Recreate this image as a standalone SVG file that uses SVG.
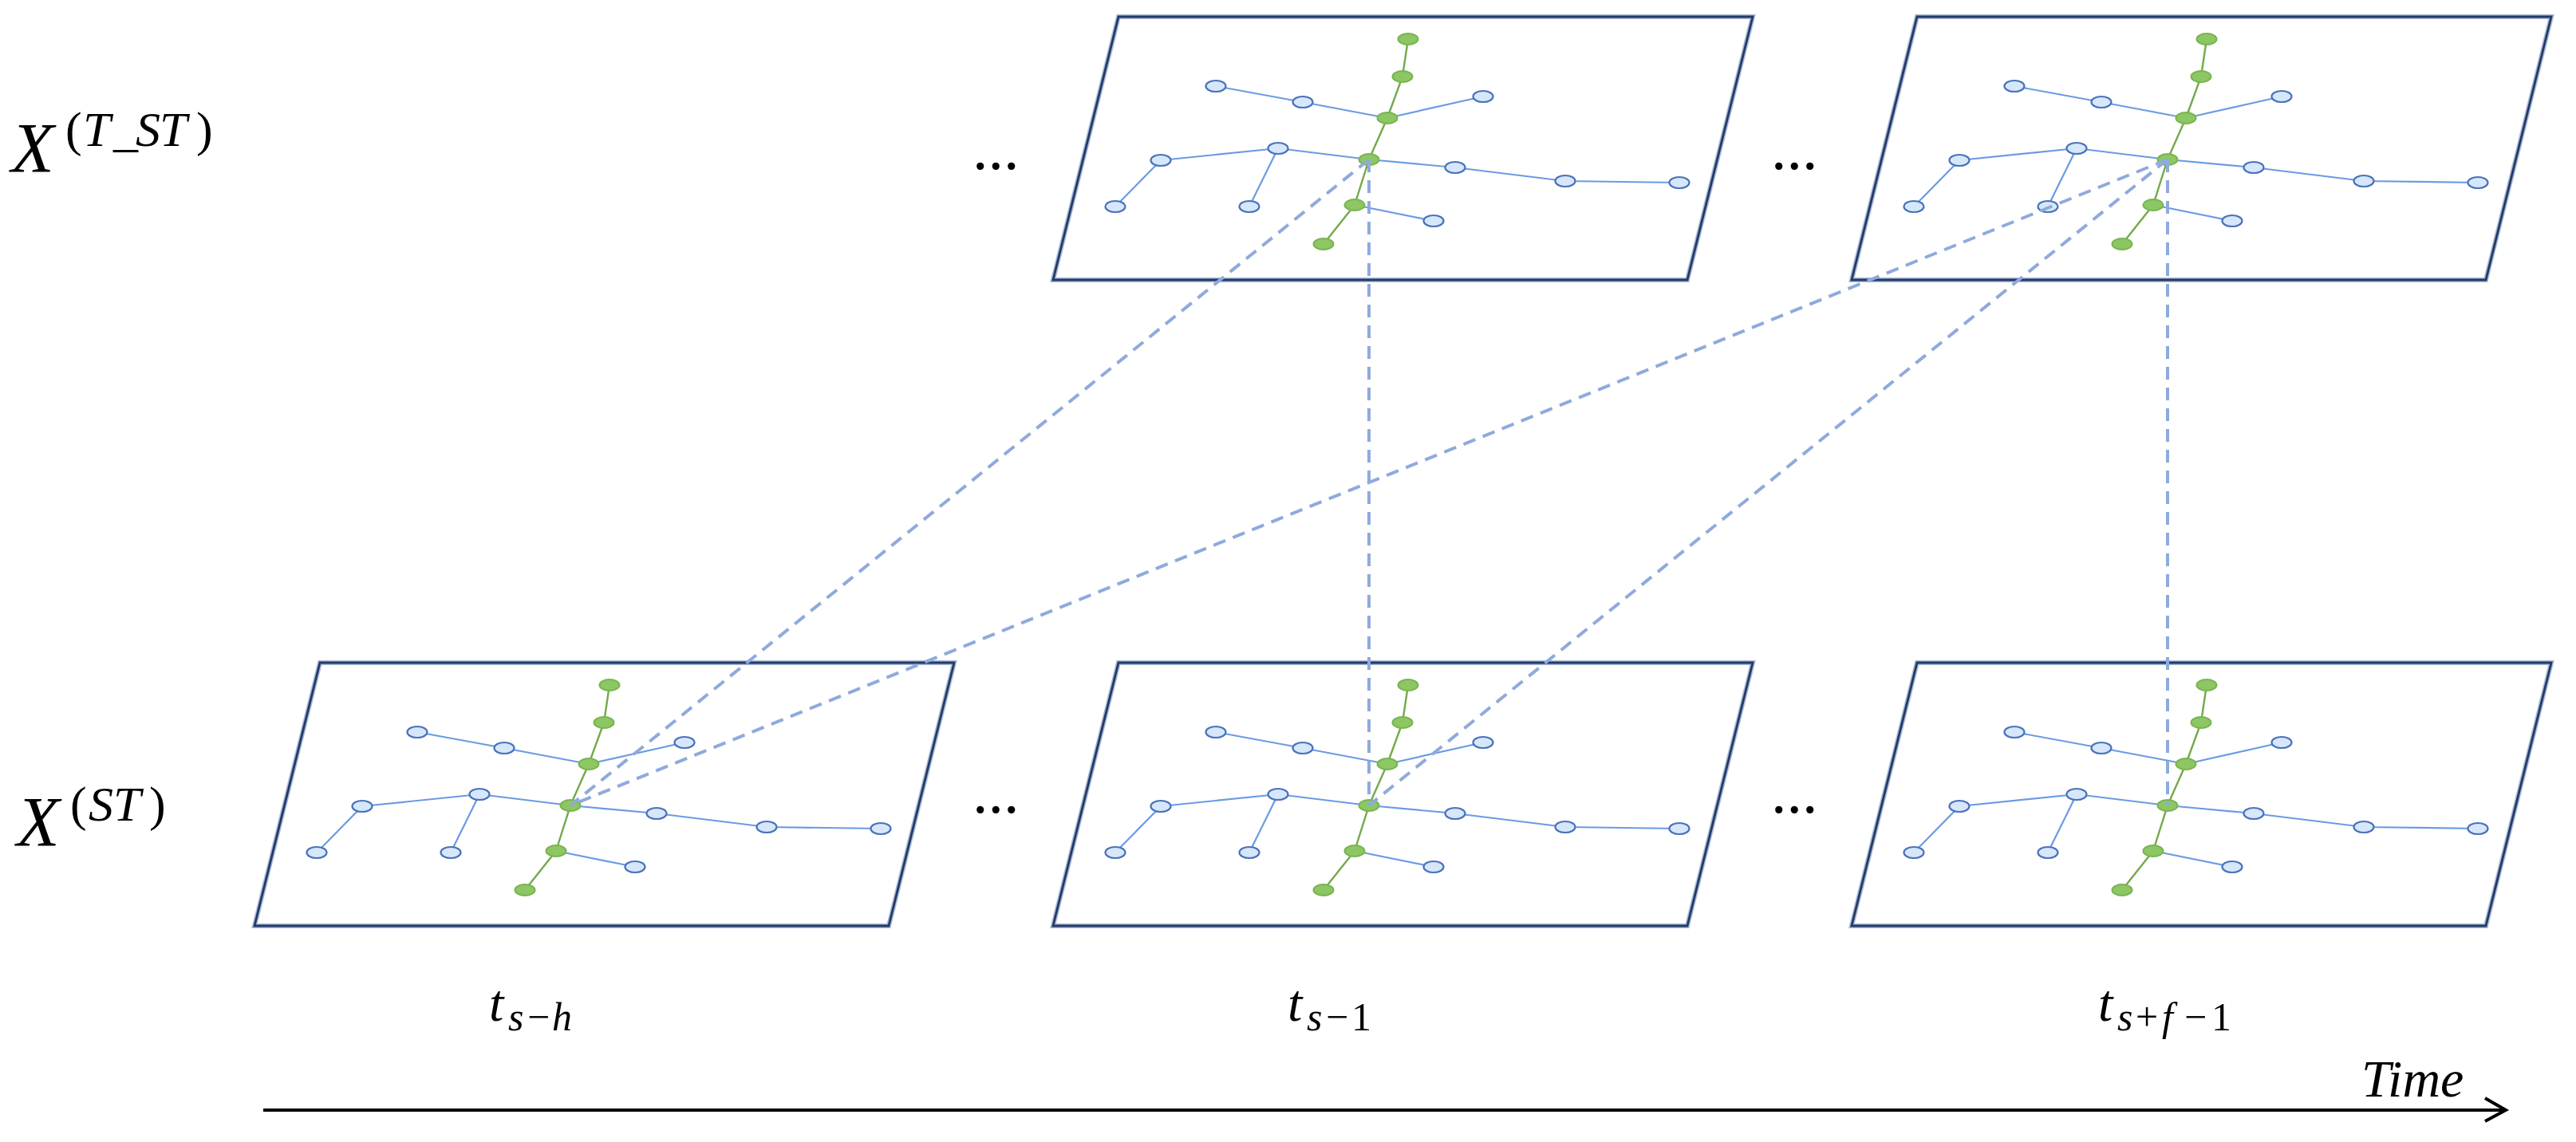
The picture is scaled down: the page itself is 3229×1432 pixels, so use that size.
<svg xmlns="http://www.w3.org/2000/svg" xmlns:xlink="http://www.w3.org/1999/xlink" width="3229" height="1432" viewBox="0 0 3229 1432">
<style>
.panel-halo{fill:#ffffff;stroke:#a9b8d6;stroke-width:6;stroke-linejoin:miter}
.panel{fill:none;stroke:#223a66;stroke-width:2.8;stroke-linejoin:miter}
.be{stroke:#6a9be4;stroke-width:2.2;fill:none;stroke-linecap:round}
.ge{stroke:#74a94c;stroke-width:2.4;fill:none;stroke-linecap:round;stroke-linejoin:round}
.bn{fill:#d7e7fb;stroke:#4a72b8;stroke-width:2.2}
.gn{fill:#8cc763;stroke:#7ab452;stroke-width:2}
.dash{stroke:#8faadc;stroke-width:4;stroke-dasharray:16 10;fill:none}
.m{font-family:"Liberation Serif","DejaVu Serif",serif;fill:#000}
.it{font-style:italic}
.sub{font-size:50px}
</style>
<defs>
<g id="graph">
<polyline class="be" points="122,87 231,107 337,127"/>
<line class="be" x1="337" y1="127" x2="457" y2="100"/>
<polyline class="be" points="53,180 200,165 314,179"/>
<line class="be" x1="200" y1="165" x2="164" y2="238"/>
<line class="be" x1="53" y1="180" x2="-4" y2="238"/>
<polyline class="be" points="314,179 422,189 560,206 703,208"/>
<line class="be" x1="296" y1="236" x2="395" y2="256"/>
<polyline class="ge" points="363,28 356,75 337,127 314,179 296,236 257,285"/>
<ellipse class="bn" cx="122" cy="87" rx="12.5" ry="7"/>
<ellipse class="bn" cx="231" cy="107" rx="12.5" ry="7"/>
<ellipse class="bn" cx="457" cy="100" rx="12.5" ry="7"/>
<ellipse class="bn" cx="200" cy="165" rx="12.5" ry="7"/>
<ellipse class="bn" cx="53" cy="180" rx="12.5" ry="7"/>
<ellipse class="bn" cx="-4" cy="238" rx="12.5" ry="7"/>
<ellipse class="bn" cx="164" cy="238" rx="12.5" ry="7"/>
<ellipse class="bn" cx="422" cy="189" rx="12.5" ry="7"/>
<ellipse class="bn" cx="560" cy="206" rx="12.5" ry="7"/>
<ellipse class="bn" cx="703" cy="208" rx="12.5" ry="7"/>
<ellipse class="bn" cx="395" cy="256" rx="12.5" ry="7"/>
<ellipse class="gn" cx="363" cy="28" rx="12.5" ry="7"/>
<ellipse class="gn" cx="356" cy="75" rx="12.5" ry="7"/>
<ellipse class="gn" cx="337" cy="127" rx="12.5" ry="7"/>
<ellipse class="gn" cx="314" cy="179" rx="12.5" ry="7"/>
<ellipse class="gn" cx="296" cy="236" rx="12.5" ry="7"/>
<ellipse class="gn" cx="257" cy="285" rx="12.5" ry="7"/>
</g>
<polygon id="plane" points="0,0 795,0 713,330 -82,330"/>
</defs>
<rect width="3229" height="1432" fill="#ffffff"/>

<g id="panel-tst-1" transform="translate(1402,21)">
<use href="#plane" xlink:href="#plane" class="panel-halo"/>
<use href="#plane" xlink:href="#plane" class="panel"/>
<use href="#graph" xlink:href="#graph"/>
</g>
<g id="panel-tst-2" transform="translate(2403,21)">
<use href="#plane" xlink:href="#plane" class="panel-halo"/>
<use href="#plane" xlink:href="#plane" class="panel"/>
<use href="#graph" xlink:href="#graph"/>
</g>
<g id="panel-st-1" transform="translate(401,831)">
<use href="#plane" xlink:href="#plane" class="panel-halo"/>
<use href="#plane" xlink:href="#plane" class="panel"/>
<use href="#graph" xlink:href="#graph"/>
</g>
<g id="panel-st-2" transform="translate(1402,831)">
<use href="#plane" xlink:href="#plane" class="panel-halo"/>
<use href="#plane" xlink:href="#plane" class="panel"/>
<use href="#graph" xlink:href="#graph"/>
</g>
<g id="panel-st-3" transform="translate(2403,831)">
<use href="#plane" xlink:href="#plane" class="panel-halo"/>
<use href="#plane" xlink:href="#plane" class="panel"/>
<use href="#graph" xlink:href="#graph"/>
</g>

<g id="connectors">
<line class="dash" x1="1716" y1="200" x2="715" y2="1010"/>
<line class="dash" x1="1716" y1="200" x2="1716" y2="1010"/>
<line class="dash" x1="2717" y1="200" x2="715" y2="1010"/>
<line class="dash" x1="2717" y1="200" x2="1716" y2="1010"/>
<line class="dash" x1="2717" y1="200" x2="2717" y2="1010"/>
</g>

<g id="labels">
<text class="m" y="215"><tspan class="it" x="14" font-size="88">X</tspan><tspan font-size="62" x="82" y="183">(</tspan><tspan class="it" font-size="62" x="104" y="183">T</tspan><tspan font-size="62" x="142" y="183">_</tspan><tspan class="it" font-size="62" x="170" y="183">S</tspan><tspan class="it" font-size="62" x="200" y="183">T</tspan><tspan font-size="62" x="246" y="183">)</tspan></text>
<text class="m" y="1060"><tspan class="it" x="21" font-size="88">X</tspan><tspan font-size="62" x="88" y="1029">(</tspan><tspan class="it" font-size="62" x="111" y="1029">S</tspan><tspan class="it" font-size="62" x="142" y="1029">T</tspan><tspan font-size="62" x="187" y="1029">)</tspan></text>

<text class="m" font-size="78" x="1219" y="212">...</text>
<text class="m" font-size="78" x="2220" y="212">...</text>
<text class="m" font-size="78" x="1219" y="1019">...</text>
<text class="m" font-size="78" x="2220" y="1019">...</text>

<text class="m" y="1280"><tspan class="it" x="613" font-size="66">t</tspan><tspan class="sub it" x="637" y="1292">s</tspan><tspan class="sub" x="661" y="1292">−</tspan><tspan class="sub it" x="692" y="1292">h</tspan></text>
<text class="m" y="1280"><tspan class="it" x="1614" font-size="66">t</tspan><tspan class="sub it" x="1638" y="1292">s</tspan><tspan class="sub" x="1662" y="1292">−</tspan><tspan class="sub" x="1694" y="1292">1</tspan></text>
<text class="m" y="1280"><tspan class="it" x="2630" font-size="66">t</tspan><tspan class="sub it" x="2654" y="1292">s</tspan><tspan class="sub" x="2677" y="1292">+</tspan><tspan class="sub it" x="2710" y="1292">f</tspan><tspan class="sub" x="2738" y="1292">−</tspan><tspan class="sub" x="2772" y="1292">1</tspan></text>

<text class="m it" font-size="66" x="2960" y="1375">Time</text>
</g>

<g id="time-axis">
<line x1="330" y1="1392" x2="3140" y2="1392" stroke="#000" stroke-width="4"/>
<polyline points="3115,1377 3141,1392 3115,1406" fill="none" stroke="#000" stroke-width="4"/>
</g>
</svg>
